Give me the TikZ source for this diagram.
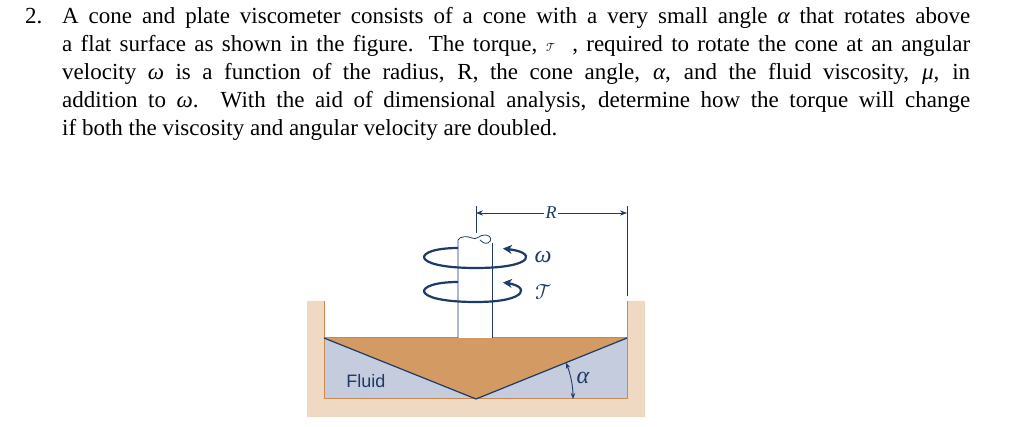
\documentclass[tikz,border=0pt]{standalone}
\usepackage{fontspec}
\setmainfont{Liberation Serif}
\newfontfamily\sansf{Liberation Sans}
\newfontfamily\lmm{Latin Modern Math}
\usetikzlibrary{arrows.meta}
\definecolor{tan}{HTML}{F0D9C2}
\definecolor{conec}{HTML}{D49A64}
\definecolor{fluidc}{HTML}{C5CCDD}
\definecolor{navy}{HTML}{1E3A66}
\definecolor{edgec}{HTML}{C98A52}
\tikzset{ln/.style={navy,line width=1.1pt},dim/.style={navy,line width=0.6pt},
 txt/.style={anchor=base west,inner sep=0,font=\fontsize{23}{26}\selectfont}}
\newcommand{\jl}[1]{\makebox[908pt][s]{#1}}
\newcommand{\gk}[1]{{\itshape #1}}
\newcommand{\tq}{{\lmm 𝒯}}
\begin{document}
\begin{tikzpicture}[x=1pt,y=-1pt]
\useasboundingbox (0,0) rectangle (1012,427);
\node[txt] (n) at (25,24) {2.};
\node[txt] (l1) at (62,24) {\jl{A cone and plate viscometer consists of a cone with a very small angle \gk{α} that rotates above}};
\node[txt] (l2) at (62,52) {\jl{a flat surface as shown in the figure. The torque, {\fontsize{12}{12}\selectfont\tq}\ \ , required to rotate the cone at an angular}};
\node[txt] (l3) at (62,80) {\jl{velocity \gk{ω} is a function of the radius, R, the cone angle, \gk{α}, and the fluid viscosity, \gk{μ}, in}};
\node[txt] (l4) at (62,108) {\jl{addition to \gk{ω}. With the aid of dimensional analysis, determine how the torque will change}};
\node[txt] (l5) at (62,136) {if both the viscosity and angular velocity are doubled.};
% container
\fill[tan] (307,301) -- (324,301) -- (324,399) -- (627,399) -- (627,301) -- (645,301) -- (645,417) -- (307,417) -- cycle;
\fill[fluidc] (324,338) rectangle (627,399);
\fill[conec] (324,338) -- (627,338) -- (476,399) -- cycle;
\draw[edgec,line width=1pt] (324,301) -- (324,399) -- (627,399) -- (627,301);
\draw[edgec,line width=1pt] (324,338) -- (627,338);
\draw[ln,line width=1.2pt] (324,338) -- (476,399) -- (627,338);
% shaft
\fill[white] (458,242) rectangle (492,338);
\draw[ln,line width=0.8pt] (458,338) -- (458,240) .. controls (460,236) and (468,236) .. (472,238) .. controls (476,241) and (480,234) .. (486,235) .. controls (492,236) and (492,241) .. (488,243) .. controls (484,244) and (482,242) .. (480,240);
\draw[ln,line width=0.8pt] (492,243) -- (492,338);
% rotation loops
\draw[ln,line width=2.2pt] (458,248) .. controls (412,248) and (408,268) .. (476,268) .. controls (537,268) and (537,251) .. (505,249);
\draw[ln,line width=2.2pt] (458,282) .. controls (412,282) and (408,302) .. (476,302) .. controls (530,302) and (530,285) .. (505,283);
\draw[navy,line width=1pt,-{Stealth[length=9pt,width=9pt]}] (513,249.5) -- (503,248.5);
\draw[navy,line width=1pt,-{Stealth[length=9pt,width=9pt]}] (513,283.5) -- (503,282.5);
\node[navy,font=\fontsize{24}{24}\selectfont] (w) at (543,257) {\gk{ω}};
\node[navy,font=\fontsize{22}{22}\selectfont] (T) at (544,292) {\tq};
% dimension R
\coordinate (ra) at (476,213); \coordinate (rb) at (627,213);
\draw[dim] (476,206) -- (476,233);
\draw[dim] (627,206) -- (627,296);
\node[navy,font=\fontsize{18}{18}\selectfont\itshape,fill=white,inner sep=1.5pt] (R) at (551,213) {R};
\draw[dim,-{Stealth[length=7pt]}] (R) -- (ra);
\draw[dim,-{Stealth[length=7pt]}] (R) -- (rb);
% alpha
\draw[dim,line width=0.9pt,{Stealth[length=6pt]}-{Stealth[length=6pt]}] (476,399) ++(-22:97) arc[start angle=-22,end angle=0,radius=97];
\node[navy,font=\fontsize{24}{24}\selectfont] (a) at (583,378) {\gk{α}};
\node[navy,font=\sansf\fontsize{18}{18}\selectfont] (f) at (366,381) {Fluid};
\end{tikzpicture}
\end{document}
